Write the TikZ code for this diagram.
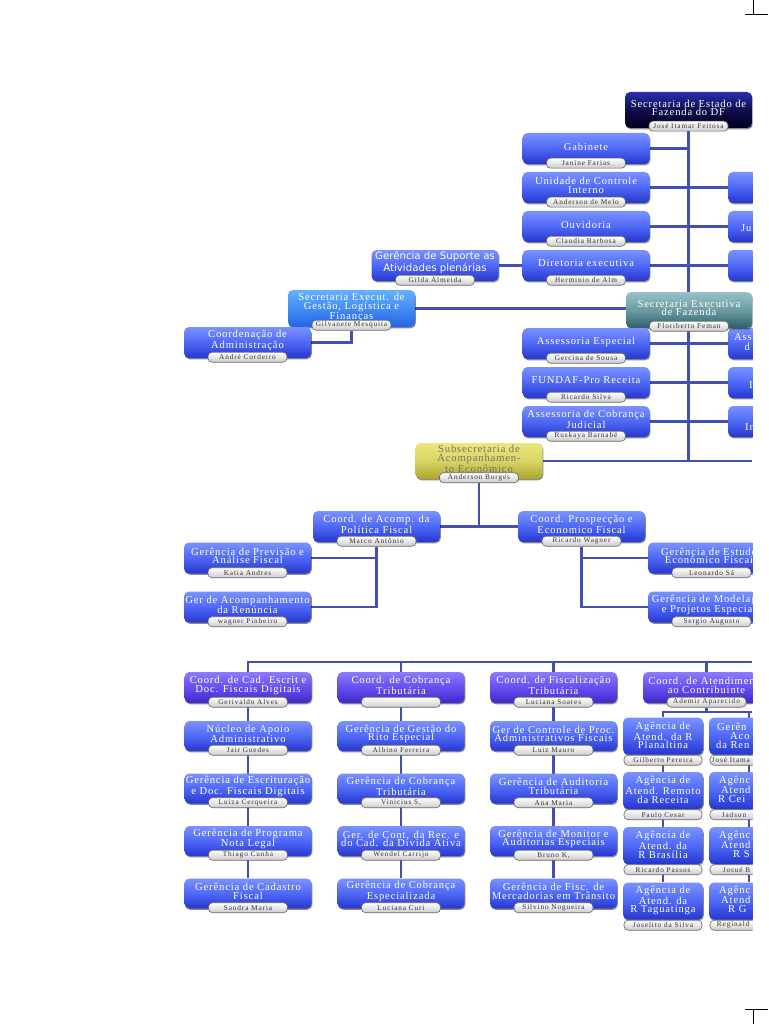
\documentclass[tikz,border=0pt]{standalone}
\usepackage{fontspec}
\setmainfont{Liberation Serif}
\newfontfamily\bxf[LetterSpace=8]{Liberation Serif}
\newfontfamily\tgf[LetterSpace=12]{Liberation Serif}
\newfontfamily\ssf{DejaVu Sans}
\usetikzlibrary{shadows,backgrounds}
\definecolor{bT}{RGB}{122,146,255}
\definecolor{bM}{RGB}{78,104,245}
\definecolor{bB}{RGB}{38,54,205}
\definecolor{pT}{RGB}{142,122,252}
\definecolor{pM}{RGB}{100,78,240}
\definecolor{pB}{RGB}{62,40,200}
\definecolor{nT}{RGB}{45,45,175}
\definecolor{nB}{RGB}{0,0,30}
\definecolor{tT}{RGB}{150,195,200}
\definecolor{tB}{RGB}{45,95,105}
\definecolor{sT}{RGB}{100,178,255}
\definecolor{sB}{RGB}{35,100,230}
\definecolor{yT}{RGB}{236,232,125}
\definecolor{yB}{RGB}{170,165,45}
\definecolor{lineC}{RGB}{66,80,180}
\tikzset{
  orgbox/.style={rounded corners=5pt, minimum width=127pt, minimum height=31pt, inner sep=0pt,
    drop shadow={shadow xshift=0.8pt, shadow yshift=-1.3pt, opacity=0.45, fill=black}},
  bluebox/.style={orgbox, top color=bT, bottom color=bB, middle color=bM},
  purplebox/.style={orgbox, minimum height=31pt, top color=pT, bottom color=pB, middle color=pM},
  navybox/.style={orgbox, top color=nT, bottom color=nB, middle color=nB!70!nT},
  tealbox/.style={orgbox, top color=tT, bottom color=tB, middle color=tT!60!tB},
  skybox/.style={orgbox, top color=sT, bottom color=sB},
  yellowbox/.style={orgbox, top color=yT, bottom color=yB, middle color=yT!70!yB},
  rowbox/.style={bluebox, minimum height=30pt},
  agbox/.style={bluebox, minimum width=80pt, minimum height=37pt},
  btext/.style={font=\bxf\fontsize{10.6}{8.7}\selectfont, text=white, align=center, inner sep=0pt},
  frag/.style={btext, anchor=west},
  tagbox/.style={rounded corners=4pt, minimum width=79pt, minimum height=10pt, inner sep=0pt,
    top color=white, bottom color=black!20, draw=black!60, line width=0.6pt,
    font=\tgf\fontsize{7.3}{8}\selectfont, text=black!80},
  tagfrag/.style={font=\tgf\fontsize{7.3}{8}\selectfont, text=black!80, anchor=west, inner sep=0pt},
  conn/.style={draw=lineC, line width=2.2pt},
}
\newcommand\ob[6][bluebox]{%
  \node[#1] (#2) at (#3,#4) {};
  \node[btext] (#2x) at ([yshift=2pt]#2.center) {#5};
  \node[tagbox] (#2t) at ([yshift=1pt]#2.south) {#6};}
\newcommand\ag[5]{%
  \node[agbox] (#1) at (#2,#3) {};
  \node[btext] (#1x) at ([yshift=0.5pt]#1.center) {#4};
  \node[tagbox, minimum width=78pt] (#1t) at ([yshift=-5.5pt]#1.south) {#5};}
\begin{document}
\begin{tikzpicture}[x=1pt, y=-1pt]
\useasboundingbox (0,0) rectangle (768,1024);
\begin{scope}
\clip (0,0) rectangle (752.5,1024);
% top level
\node[navybox, minimum height=36pt] (sed) at (688.5,110) {};
\node[btext] (sedx) at ([yshift=2pt]sed.center) {Secretaria de Estado de\\Fazenda do DF};
\node[tagbox] (sedt) at ([yshift=2pt]sed.south) {José Itamar Feitosa};
\ob{gab}{586}{148.5}{Gabinete}{Janine Farias}
\ob{uci}{586}{187.5}{Unidade de Controle\\Interno}{Anderson de Melo}
\ob{ouv}{586}{226.5}{Ouvidoria}{Claudia Barbosa}
\ob{dir}{586}{265.5}{Diretoria executiva}{Herminio de Alm}
\node[bluebox] (sup) at (435,265.5) {};
\node[btext, font=\ssf\fontsize{10.2}{9.7}\selectfont] (supx) at ([yshift=3pt]sup.center) {Gerência de Suporte as\\Atividades plenárias};
\node[tagbox] (supt) at ([yshift=1pt]sup.south) {Gilda Almeida};
% right column (cut)
\node[bluebox] (r1) at (791.5,187.5) {};
\node[bluebox] (r2) at (791.5,226.5) {};
\node[bluebox] (r3) at (791.5,265.5) {};
\node[bluebox] (r4) at (791.5,343.5) {};
\node[bluebox] (r5) at (791.5,382.5) {};
\node[bluebox] (r6) at (791.5,421.5) {};
\node[frag] (fr2) at (741,228) {Ju};
\node[frag] (fr4a) at (734,337) {Ass};
\node[frag] (fr4b) at (744.5,347) {d};
\node[frag] (fr5) at (749,385) {I};
\node[frag] (fr6) at (745,427) {In};
% executive secretariats
\node[skybox, minimum height=37pt] (seglf) at (351.5,308.5) {};
\node[btext] (seglfx) at ([yshift=1pt]seglf.center) {Secretaria Execut. de\\Gestão, Logística e\\Finanças};
\node[tagbox] (seglft) at ([yshift=2pt]seglf.south) {Gilvanete Mesquita};
\ob{adm}{247.5}{342.5}{Coordenação de\\Administração}{André Cordeiro}
\node[tealbox, minimum width=126pt, minimum height=36pt] (sef) at (689,310) {};
\node[btext] (sefx) at ([yshift=2pt]sef.center) {Secretaria Executiva\\de Fazenda};
\node[tagbox] (seft) at ([yshift=2pt]sef.south) {Floriberto Feman};
\ob{ae}{586}{343.5}{Assessoria Especial}{Gercina de Sousa}
\ob{fun}{586}{382.5}{FUNDAF-Pro Receita}{Ricardo Silva}
\ob{acj}{586}{421.5}{Assessoria de Cobrança\\Judicial}{Ruskaya Barnabé}
% subsecretaria
\node[yellowbox, minimum height=36pt] (sub) at (479,461) {};
\node[btext, text=black!55] (subx) at ([yshift=2pt]sub.center) {Subsecretaria de\\Acompanhamen-\\to Econômico};
\node[tagbox] (subt) at ([yshift=1.5pt]sub.south) {Anderson Borges};
\ob{cpf}{376.5}{526.5}{Coord. de Acomp. da\\Política Fiscal}{Marco Antônio}
\ob{cpe}{581.5}{526.5}{Coord. Prospecção e\\Economico Fiscal}{Ricardo Wagner}
\ob{gpa}{247.5}{558}{Gerência de Previsão e\\Análise Fiscal}{Katia Andres}
\ob{gar}{247.5}{607}{Ger de Acompanhamento\\da Renúncia}{wagner Pinheiro}
\ob{gee}{711.5}{558}{Gerência de Estudos\\Econômico Fiscais}{Leonardo Sá}
\ob{gmp}{711.5}{607}{Gerência de Modelagem\\e Projetos Especiais}{Sergio Augusto}
% bottom columns
\ob[purplebox]{k1}{248}{687.5}{Coord. de Cad. Escrit e\\Doc. Fiscais Digitais}{Gerivaldo Alves}
\ob[rowbox]{k2}{248}{736}{Núcleo de Apoio\\Administrativo}{Jair Guedes}
\ob[rowbox]{k3}{248}{788.5}{Gerência de Escrituração\\e Doc. Fiscais Digitais}{Luiza Cerqueira}
\ob[rowbox]{k4}{248}{841}{Gerência de Programa\\Nota Legal}{Thiago Cunha}
\ob[rowbox]{k5}{248}{893.5}{Gerência de Cadastro\\Fiscal}{Sandra Maria}
\ob[purplebox]{t1}{401}{687.5}{Coord. de Cobrança\\Tributária}{}
\ob[rowbox]{t2}{401}{736}{Gerência de Gestão do\\Rito Especial}{Albino Ferreira}
\ob[rowbox]{t3}{401}{788.5}{Gerência de Cobrança\\Tributária}{Vinicius S,}
\ob[rowbox]{t4}{401}{841}{Ger. de Cont. da Rec. e\\do Cad. da Dívida Ativa}{Wendel Carrijo}
\ob[rowbox]{t5}{401}{893.5}{Gerência de Cobrança\\Especializada}{Luciana Curi}
\ob[purplebox]{f1}{553.5}{687.5}{Coord. de Fiscalização\\Tributária}{Luciana Soares}
\ob[rowbox]{f2}{553.5}{736}{Ger de Controle de Proc.\\Administrativos Fiscais}{Luiz Mauro}
\ob[rowbox]{f3}{553.5}{788.5}{Gerência de Auditoria\\Tributária}{Ana Maria}
\ob[rowbox]{f4}{553.5}{841}{Gerência de Monitor e\\Auditorias Especiais}{Bruno K,}
\ob[rowbox]{f5}{553.5}{893.5}{Gerência de Fisc. de\\Mercadorias em Trânsito}{Silvino Nogueira}
\ob[purplebox]{at}{706.5}{687.5}{Coord. de Atendimento\\ao Contribuinte}{Ademir Aparecido}
\ag{a1}{663}{736}{Agência de\\Atend. da R\\Planaltina}{Gilberto Pereira}
\ag{a2}{663}{790.5}{Agência de\\Atend. Remoto\\da Receita}{Paulo Cesar}
\ag{a3}{663}{845.5}{Agência de\\Atend. da\\R Brasília}{Ricardo Passos}
\ag{a4}{663}{901}{Agência de\\Atend. da\\R Taguatinga}{Joselito da Silva}
% second agency column (cut)
\node[agbox] (b1) at (749,736) {};
\node[agbox] (b2) at (749,790.5) {};
\node[agbox] (b3) at (749,845.5) {};
\node[agbox] (b4) at (749,901) {};
\node[tagbox, minimum width=78pt] (b1t) at ([yshift=-5.5pt]b1.south) {};
\node[tagbox, minimum width=78pt] (b2t) at ([yshift=-5.5pt]b2.south) {};
\node[tagbox, minimum width=78pt] (b3t) at ([yshift=-5.5pt]b3.south) {};
\node[tagbox, minimum width=78pt] (b4t) at ([yshift=-5.5pt]b4.south) {};
\node[frag] (g1a) at (717,727) {Gerên};
\node[frag] (g1b) at (730,736) {Aco};
\node[frag] (g1c) at (716,745) {da Ren};
\node[tagfrag] (g1t) at ([xshift=2pt]b1t.west) {José Itama};
\node[frag] (g2a) at (719,781) {Agênc};
\node[frag] (g2b) at (721,790) {Atend};
\node[frag] (g2c) at (718,799) {R Cei};
\node[tagfrag] (g2t) at ([xshift=12pt]b2t.west) {Jadson};
\node[frag] (g3a) at (719,836) {Agênc};
\node[frag] (g3b) at (721,845) {Atend};
\node[frag] (g3c) at (733,854) {R S};
\node[tagfrag] (g3t) at ([xshift=13pt]b3t.west) {Josué B};
\node[frag] (g4a) at (719,891) {Agênc};
\node[frag] (g4b) at (721,900) {Atend};
\node[frag] (g4c) at (728,909) {R G};
\node[tagfrag] (g4t) at ([xshift=7pt]b4t.west) {Reginald};
\end{scope}
% connectors
\coordinate (hr) at (752,461);
\coordinate (bar) at (752,662);
\coordinate (ah) at (752,712);
\begin{scope}[on background layer]
\fill[white] (0,0) rectangle (768,1024);
\draw[conn] (sed.south) -- (sed.south |- hr);
\draw[conn] (sub.east) -- (hr);
\draw[conn] (gab.east) -- (gab.east -| sed.south);
\draw[conn] (uci.east) -- (r1.west);
\draw[conn] (ouv.east) -- (r2.west);
\draw[conn] (dir.east) -- (r3.west);
\draw[conn] (ae.east) -- (r4.west);
\draw[conn] (fun.east) -- (r5.west);
\draw[conn] (acj.east) -- (r6.west);
\draw[conn] (sup.east) -- (dir.west);
\draw[conn] (seglf.east) -- (seglf.east -| sef.west);
\draw[conn] (seglft.south) |- (adm.east);
\draw[conn] (subt.south) -- (subt.south |- cpf.east);
\draw[conn] (cpf.east) -- (cpe.west);
\draw[conn] (cpft.south) |- (gar.east);
\draw[conn] (gpa.east) -- (gpa.east -| cpft.south);
\draw[conn] (cpet.south) |- (gmp.west);
\draw[conn] (gee.west) -- (gee.west -| cpet.south);
\draw[conn] (bar) -| (k1.north);
\draw[conn] (t1.north |- bar) -- (t1.north);
\draw[conn] (f1.north |- bar) -- (f1.north);
\draw[conn] (at.north |- bar) -- (at.north);
\draw[conn] (k1.south) -- (k5.north);
\draw[conn] (t1.south) -- (t5.north);
\draw[conn] (f1.south) -- (f5.north);
\draw[conn] (att.south) -- (att.south |- ah);
\draw[conn] (ah) -| (a1.north);
\draw[conn] (a1.south) -- (a4.north);
\draw[conn] (b1.north |- ah) -- (b4.north);
\end{scope}
% crop marks
\draw[black, line width=0.6pt] (753,0) -- (753,14) (745,14) -- (768,14);
\draw[black, line width=0.6pt] (745,1009) -- (768,1009) (753,1009) -- (753,1024);
\end{tikzpicture}
\end{document}
